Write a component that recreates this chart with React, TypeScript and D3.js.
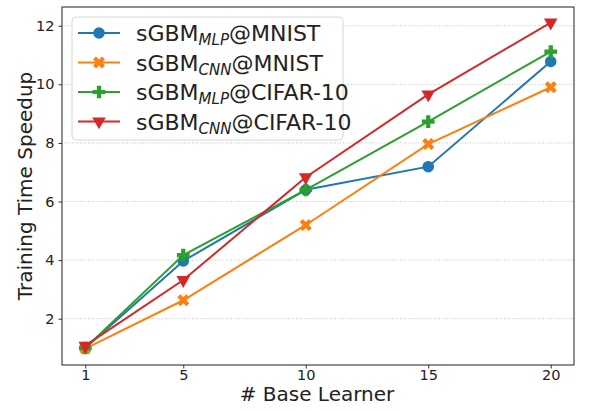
import { useEffect, useRef } from 'react';
import * as d3 from 'd3';

const learners = [1, 5, 10, 15, 20];
const mlpMnist = [1.0, 3.97, 6.4, 7.19, 10.78];
const cnnMnist = [0.98, 2.63, 5.2, 7.96, 9.9];
const mlpCifar = [1.0, 4.17, 6.4, 8.73, 11.12];
const cnnCifar = [1.08, 3.32, 6.83, 9.66, 12.11];
const xTicks = [1, 5, 10, 15, 20];
const yTicks = [2, 4, 6, 8, 10, 12];

interface Series {
  model: string;
  dataset: string;
  values: number[];
  color: string;
  marker: 'circle' | 'x' | 'plus' | 'tri';
}

const series: Series[] = [
  { model: 'MLP', dataset: 'MNIST', values: mlpMnist, color: '#1f77b4', marker: 'circle' },
  { model: 'CNN', dataset: 'MNIST', values: cnnMnist, color: '#ff7f0e', marker: 'x' },
  { model: 'MLP', dataset: 'CIFAR-10', values: mlpCifar, color: '#2ca02c', marker: 'plus' },
  { model: 'CNN', dataset: 'CIFAR-10', values: cnnCifar, color: '#d62728', marker: 'tri' },
];

const FONT = '"DejaVu Sans", sans-serif';

function markerPath(kind: Series['marker']): { d: string; rotate: number } {
  if (kind === 'circle') return { d: d3.symbol(d3.symbolCircle, 105)()!, rotate: 0 };
  if (kind === 'x') return { d: d3.symbol(d3.symbolCross, 90)()!, rotate: 45 };
  if (kind === 'plus') return { d: d3.symbol(d3.symbolCross, 90)()!, rotate: 0 };
  return { d: d3.symbol(d3.symbolTriangle, 80)()!, rotate: 180 };
}

export default function App() {
  const ref = useRef<SVGSVGElement>(null);
  const width = 595;
  const height = 411;

  useEffect(() => {
    if (!ref.current) return;
    const svg = d3.select(ref.current);
    svg.selectAll('*').remove();

    const margin = { top: 7, right: 21, bottom: 46, left: 62 };
    const innerW = width - margin.left - margin.right;
    const innerH = height - margin.top - margin.bottom;

    const g = svg
      .append('g')
      .attr('transform', `translate(${margin.left},${margin.top})`);

    const x = d3.scaleLinear().domain([0.05, 20.95]).range([0, innerW]);
    const y = d3.scaleLinear().domain([0.42, 12.64]).range([innerH, 0]);

    // grid
    g.append('g')
      .selectAll('line')
      .data(yTicks)
      .join('line')
      .attr('x1', 0)
      .attr('x2', innerW)
      .attr('y1', (d) => y(d))
      .attr('y2', (d) => y(d))
      .attr('stroke', '#b8b8b8')
      .attr('stroke-width', 0.9)
      .attr('stroke-dasharray', '1,1.6');

    // axes
    const xAxis = g
      .append('g')
      .attr('transform', `translate(0,${innerH})`)
      .call(d3.axisBottom(x).tickValues(xTicks).tickSize(3.5).tickPadding(1.5).tickSizeOuter(0));
    const yAxis = g
      .append('g')
      .call(d3.axisLeft(y).tickValues(yTicks).tickSize(3.5).tickPadding(4).tickSizeOuter(0));
    [xAxis, yAxis].forEach((a) => {
      a.select('.domain').remove();
      a.selectAll('line').attr('stroke', '#333');
      a.selectAll('text')
        .attr('fill', '#222')
        .attr('font-family', FONT)
        .attr('font-size', 14.5);
    });

    // lines + markers
    const line = d3
      .line<number>()
      .x((_, i) => x(learners[i]))
      .y((d) => y(d));
    series.forEach((s) => {
      g.append('path')
        .datum(s.values)
        .attr('fill', 'none')
        .attr('stroke', s.color)
        .attr('stroke-width', 2)
        .attr('d', line);
      const m = markerPath(s.marker);
      g.append('g')
        .selectAll('path')
        .data(s.values)
        .join('path')
        .attr('d', m.d)
        .attr('fill', s.color)
        .attr('transform', (d, i) => `translate(${x(learners[i])},${y(d)}) rotate(${m.rotate})`);
    });

    // frame
    g.append('rect')
      .attr('width', innerW)
      .attr('height', innerH)
      .attr('fill', 'none')
      .attr('stroke', '#333')
      .attr('stroke-width', 1.1);

    // legend
    const lg = svg.append('g').attr('transform', 'translate(72,17)');
    lg.append('rect')
      .attr('width', 271)
      .attr('height', 123)
      .attr('rx', 4)
      .attr('fill', 'white')
      .attr('fill-opacity', 0.85)
      .attr('stroke', '#d6d6d6');
    series.forEach((s, i) => {
      const cy = 16 + i * 29.5;
      lg.append('line')
        .attr('x1', 6)
        .attr('x2', 48)
        .attr('y1', cy)
        .attr('y2', cy)
        .attr('stroke', s.color)
        .attr('stroke-width', 2);
      const m = markerPath(s.marker);
      lg.append('path')
        .attr('d', m.d)
        .attr('fill', s.color)
        .attr('transform', `translate(27,${cy}) rotate(${m.rotate})`);
      const t = lg
        .append('text')
        .attr('x', 64)
        .attr('y', cy + 8)
        .attr('font-family', FONT)
        .attr('font-size', 22)
        .attr('fill', '#222');
      t.append('tspan').text('sGBM');
      t.append('tspan')
        .attr('font-size', 15)
        .attr('font-style', 'italic')
        .attr('dy', 4)
        .text(s.model);
      t.append('tspan').attr('dy', -4).text(`@${s.dataset}`);
    });

    // labels
    svg
      .append('text')
      .attr('x', 317)
      .attr('y', 401)
      .attr('text-anchor', 'middle')
      .attr('font-family', FONT)
      .attr('font-size', 20)
      .attr('fill', '#222')
      .text('# Base Learner');
    svg
      .append('text')
      .attr('transform', `translate(32,${margin.top + innerH / 2}) rotate(-90)`)
      .attr('text-anchor', 'middle')
      .attr('font-family', FONT)
      .attr('font-size', 20)
      .attr('fill', '#222')
      .text('Training Time Speedup');
  }, []);

  return (
    <svg
      ref={ref}
      width={width}
      height={height}
      style={{ position: 'absolute', left: 0, top: 0, background: 'white' }}
    />
  );
}
